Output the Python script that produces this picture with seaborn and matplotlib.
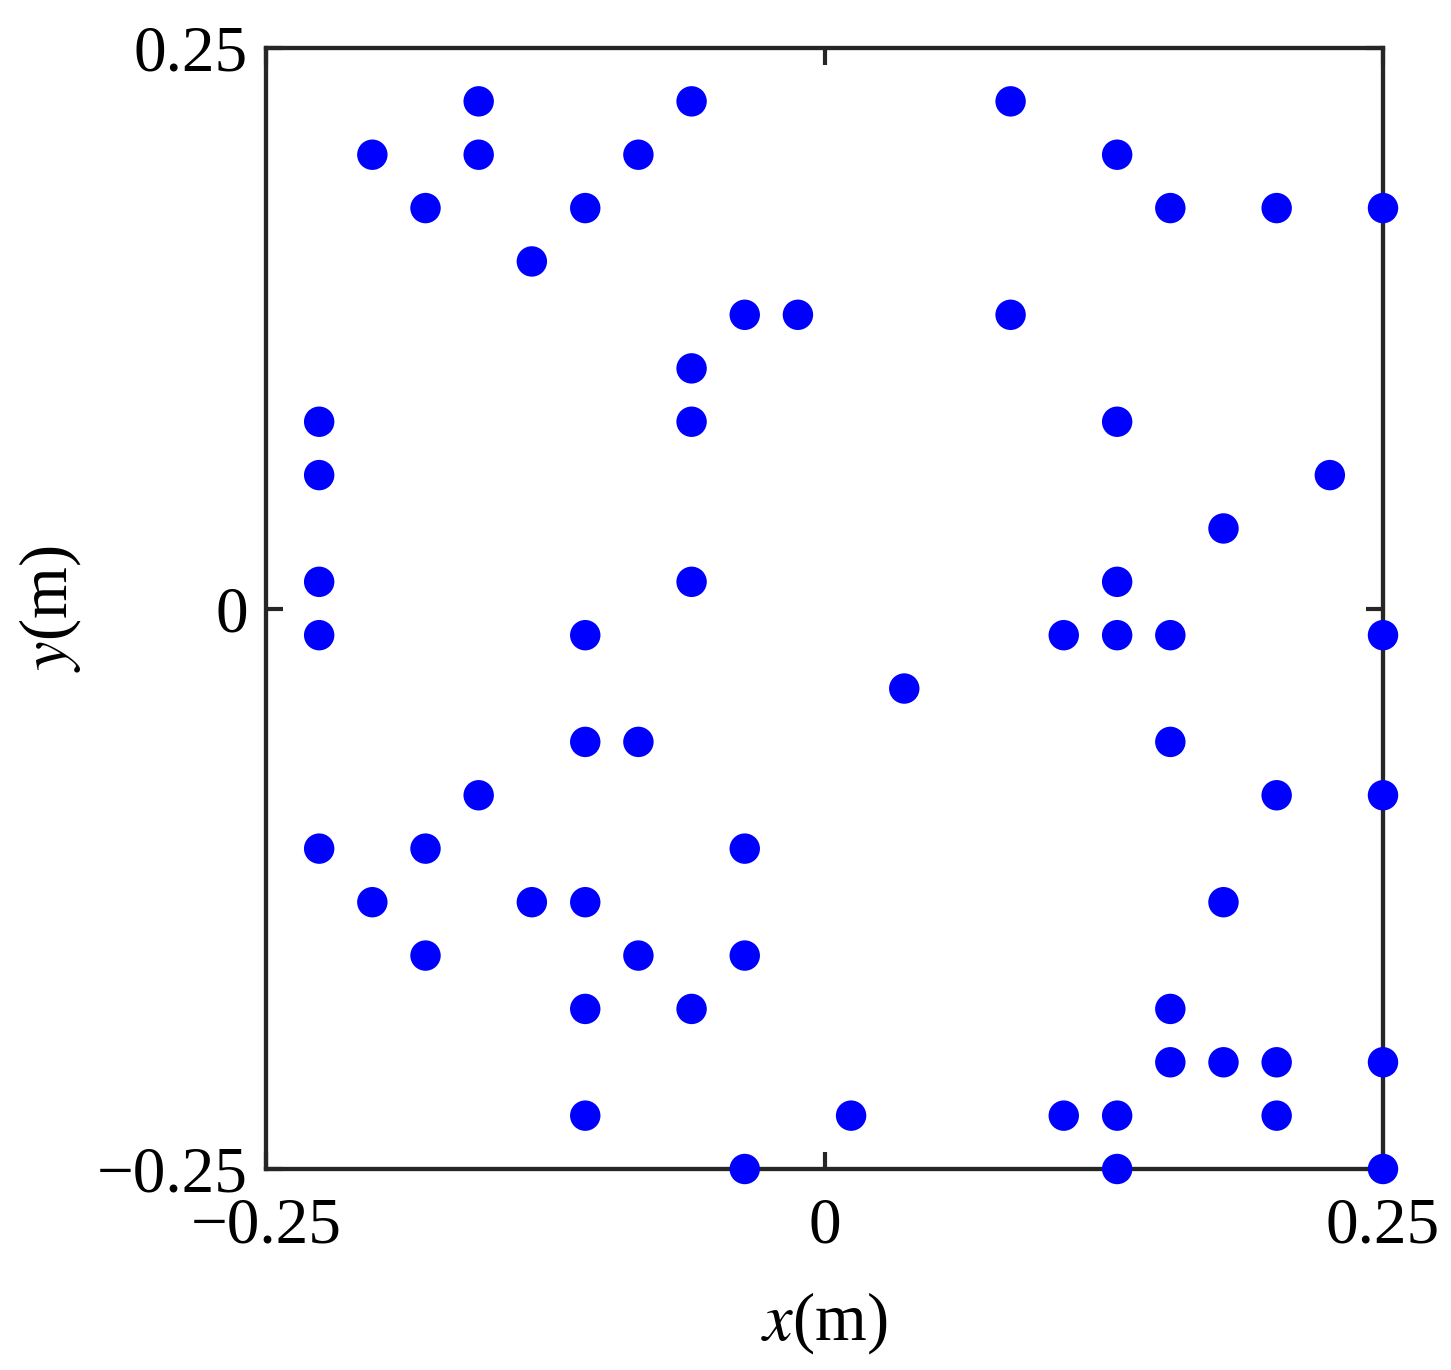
import matplotlib
matplotlib.use('Agg')
import matplotlib.pyplot as plt
import seaborn as sns
import pandas as pd

# point coordinates (metres)
x_vals = [-0.1548, -0.0595, 0.0833,
          -0.2024, -0.1548, -0.0833, 0.1310,
          -0.1786, -0.1071, 0.1548, 0.2024, 0.2500,
          -0.1310,
          -0.0357, -0.0119, 0.0833,
          -0.0595,
          -0.2262, -0.0595, 0.1310,
          -0.2262, 0.2262,
          0.1786,
          -0.2262, -0.0595, 0.1310,
          -0.2262, -0.1071, 0.1071, 0.1310, 0.1548, 0.2500,
          0.0357,
          -0.1071, -0.0833, 0.1548,
          -0.1548, 0.2024, 0.2500,
          -0.2262, -0.1786, -0.0357,
          -0.2024, -0.1310, -0.1071, 0.1786,
          -0.1786, -0.0833, -0.0357,
          -0.1071, -0.0595, 0.1548,
          0.1548, 0.1786, 0.2024, 0.2500,
          -0.1071, 0.0119, 0.1071, 0.1310, 0.2024,
          -0.0357, 0.1310, 0.2500]
y_vals = [0.2262, 0.2262, 0.2262,
          0.2024, 0.2024, 0.2024, 0.2024,
          0.1786, 0.1786, 0.1786, 0.1786, 0.1786,
          0.1548,
          0.1310, 0.1310, 0.1310,
          0.1071,
          0.0833, 0.0833, 0.0833,
          0.0595, 0.0595,
          0.0357,
          0.0119, 0.0119, 0.0119,
          -0.0119, -0.0119, -0.0119, -0.0119, -0.0119, -0.0119,
          -0.0357,
          -0.0595, -0.0595, -0.0595,
          -0.0833, -0.0833, -0.0833,
          -0.1071, -0.1071, -0.1071,
          -0.1310, -0.1310, -0.1310, -0.1310,
          -0.1548, -0.1548, -0.1548,
          -0.1786, -0.1786, -0.1786,
          -0.2024, -0.2024, -0.2024, -0.2024,
          -0.2262, -0.2262, -0.2262, -0.2262, -0.2262,
          -0.2500, -0.2500, -0.2500]
tick_vals = [-0.25, 0, 0.25]
tick_labels = ['\u22120.25', '0', '0.25']

df = pd.DataFrame({'x': x_vals, 'y': y_vals})

sns.set_style('white')
plt.rcParams['font.family'] = ['Liberation Serif', 'DejaVu Serif']
plt.rcParams['mathtext.fontset'] = 'stix'

fig = plt.figure(figsize=(14.51, 13.70), dpi=100)
ax = fig.add_axes([266 / 1451, 201 / 1370, 1117 / 1451, 1121 / 1370])

sns.scatterplot(data=df, x='x', y='y', ax=ax, color='#0000ff', s=480,
                edgecolor='none', linewidth=0, clip_on=False, zorder=3)

ax.set_xlim(-0.25, 0.25)
ax.set_ylim(-0.25, 0.25)
ax.set_xticks(tick_vals)
ax.set_xticklabels(tick_labels)
ax.set_yticks(tick_vals)
ax.set_yticklabels(tick_labels)
ax.tick_params(direction='in', length=12, width=3, color='#262626',
               labelsize=47, labelcolor='black',
               top=True, right=True, bottom=True, left=True)
ax.tick_params(axis='x', pad=20)
ax.tick_params(axis='y', pad=13)
for sp in ax.spines.values():
    sp.set_linewidth(3.1)
    sp.set_color('#262626')

ax.set_xlabel('$x$(m)', fontsize=48, labelpad=24, color='black')
ax.set_ylabel('$y$(m)', fontsize=48, labelpad=10, color='black')

fig.savefig('out.png', dpi=100)
